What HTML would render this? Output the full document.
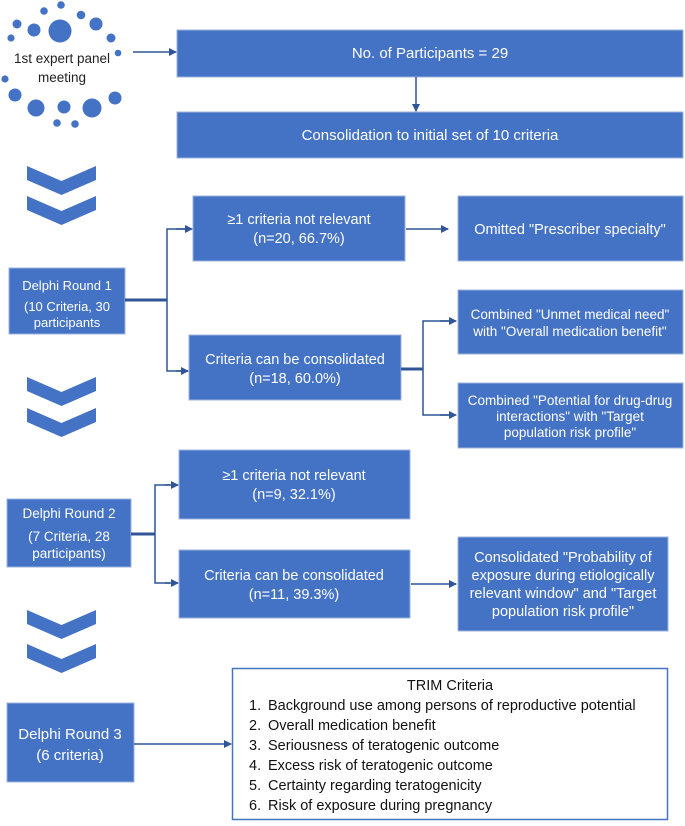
<!DOCTYPE html>
<html><head><meta charset="utf-8"><style>
html,body{margin:0;padding:0;background:#fff;}
svg text{font-family:"Liberation Sans",sans-serif;}
</style></head><body>
<svg width="685" height="821" viewBox="0 0 685 821" xmlns="http://www.w3.org/2000/svg">
<defs>
<marker id="a" markerWidth="8" markerHeight="8" refX="7" refY="4" orient="auto" markerUnits="userSpaceOnUse"><path d="M0,0 L8,4 L0,8 z" fill="#2F5597"/></marker>
<polygon id="chev" points="0,0 34.5,15 69,0 69,14 34.5,29 0,14" fill="#4472C4"/>
</defs>
<g fill="#4472C4">
<circle cx="60" cy="31" r="11.5"/><circle cx="34" cy="30" r="6.5"/><circle cx="96" cy="24" r="6.5"/>
<circle cx="17" cy="24" r="4.5"/><circle cx="11" cy="38" r="3.6"/><circle cx="111" cy="38" r="4.5"/>
<circle cx="118" cy="53" r="3.3"/><circle cx="5" cy="79" r="3.6"/><circle cx="15" cy="95" r="6.5"/>
<circle cx="36" cy="108" r="8.5"/><circle cx="64" cy="107" r="6.5"/><circle cx="92" cy="108" r="9.5"/>
<circle cx="115" cy="98" r="6.5"/><circle cx="57" cy="123" r="3.8"/><circle cx="75" cy="124" r="3.8"/>
<circle cx="44" cy="11" r="3.8"/><circle cx="61" cy="5" r="3.8"/><circle cx="81" cy="15" r="4.3"/>
</g>
<g font-size="13.5" fill="#222" text-anchor="middle">
<text x="62" y="63">1st expert panel</text><text x="62" y="82">meeting</text>
</g>
<g fill="#4472C4" stroke="#9DB3DE" stroke-width="1">
<rect x="177" y="30" width="506" height="47"/>
<rect x="177" y="112" width="506" height="46"/>
<rect x="193" y="196" width="212" height="65"/>
<rect x="458" y="196" width="225" height="65"/>
<rect x="189" y="335" width="212" height="65"/>
<rect x="458" y="290" width="225" height="64"/>
<rect x="458" y="383" width="225" height="65"/>
<rect x="9" y="268" width="116" height="66"/>
<rect x="7" y="499" width="124" height="68"/>
<rect x="179" y="450" width="231" height="69"/>
<rect x="179" y="550" width="231" height="68"/>
<rect x="458" y="537" width="210" height="94"/>
<rect x="7" y="703" width="127" height="79"/>
</g>
<rect x="232.5" y="668.5" width="435" height="151" fill="#fff" stroke="#4472C4" stroke-width="1.5"/>
<use href="#chev" x="27" y="166"/><use href="#chev" x="27" y="196"/>
<use href="#chev" x="27" y="377"/><use href="#chev" x="27" y="408"/>
<use href="#chev" x="27" y="610"/><use href="#chev" x="27" y="644"/>
<g stroke="#2F5597" stroke-width="1.5" fill="none">
<line x1="133" y1="52" x2="176" y2="52" marker-end="url(#a)"/>
<line x1="416" y1="77" x2="416" y2="111" marker-end="url(#a)"/>
<line x1="406" y1="229" x2="448" y2="229" marker-end="url(#a)"/>
<line x1="125" y1="300" x2="167" y2="300" stroke-width="3"/>
<polyline points="188,229 167,229 167,371 188,371" />
<line x1="176" y1="229" x2="192" y2="229" marker-end="url(#a)"/>
<line x1="176" y1="371" x2="188" y2="371" marker-end="url(#a)"/>
<line x1="401" y1="369" x2="423" y2="369" stroke-width="3"/>
<polyline points="450,321 423,321 423,415 450,415"/>
<line x1="440" y1="321" x2="456" y2="321" marker-end="url(#a)"/>
<line x1="440" y1="415" x2="456" y2="415" marker-end="url(#a)"/>
<line x1="131" y1="534" x2="155" y2="534" stroke-width="3"/>
<polyline points="170,485 155,485 155,583 170,583"/>
<line x1="165" y1="485" x2="178" y2="485" marker-end="url(#a)"/>
<line x1="165" y1="583" x2="178" y2="583" marker-end="url(#a)"/>
<line x1="411" y1="584" x2="456" y2="584" marker-end="url(#a)"/>
<line x1="134" y1="744" x2="231" y2="744" marker-end="url(#a)"/>
</g>
<g font-size="14.5" fill="#fff" text-anchor="middle">
<text x="430" y="58" font-size="15">No. of Participants = 29</text>
<text x="430" y="140" font-size="15">Consolidation to initial set of 10 criteria</text>
<text x="299" y="224">≥1 criteria not relevant</text><text x="299" y="243">(n=20, 66.7%)</text>
<text x="570" y="234">Omitted "Prescriber specialty"</text>
<text x="295" y="364">Criteria can be consolidated</text><text x="295" y="383">(n=18, 60.0%)</text>
<text x="570" y="319" font-size="13.5">Combined "Unmet medical need"</text><text x="570" y="336" font-size="13.5">with "Overall medication benefit"</text>
<text x="570" y="405" font-size="13.5">Combined "Potential for drug-drug</text><text x="570" y="421" font-size="13.5">interactions" with "Target</text><text x="570" y="437" font-size="13.5">population risk profile"</text>
<text x="67" y="290" font-size="13">Delphi Round 1</text><text x="67" y="311" font-size="13">(10 Criteria, 30</text><text x="67" y="327" font-size="13">participants</text>
<text x="69" y="518" font-size="13.5">Delphi Round 2</text><text x="69" y="541" font-size="13.5">(7 Criteria, 28</text><text x="69" y="558" font-size="13.5">participants)</text>
<text x="294" y="480">≥1 criteria not relevant</text><text x="294" y="499">(n=9, 32.1%)</text>
<text x="294" y="580">Criteria can be consolidated</text><text x="294" y="599">(n=11, 39.3%)</text>
<text x="563" y="562" font-size="14.5">Consolidated "Probability of</text><text x="563" y="580" font-size="14.5">exposure during etiologically</text><text x="563" y="598" font-size="14.5">relevant window" and "Target</text><text x="563" y="616" font-size="14.5">population risk profile"</text>
<text x="70" y="739" font-size="15">Delphi Round 3</text><text x="70" y="760" font-size="15">(6 criteria)</text>
</g>
<g font-size="14.5" fill="#111">
<text x="450" y="690" text-anchor="middle">TRIM Criteria</text>
<text x="249" y="710">1.</text><text x="268" y="710">Background use among persons of reproductive potential</text>
<text x="249" y="730">2.</text><text x="268" y="730">Overall medication benefit</text>
<text x="249" y="750">3.</text><text x="268" y="750">Seriousness of teratogenic outcome</text>
<text x="249" y="770">4.</text><text x="268" y="770">Excess risk of teratogenic outcome</text>
<text x="249" y="790">5.</text><text x="268" y="790">Certainty regarding teratogenicity</text>
<text x="249" y="810">6.</text><text x="268" y="810">Risk of exposure during pregnancy</text>
</g>
</svg>
</body></html>
